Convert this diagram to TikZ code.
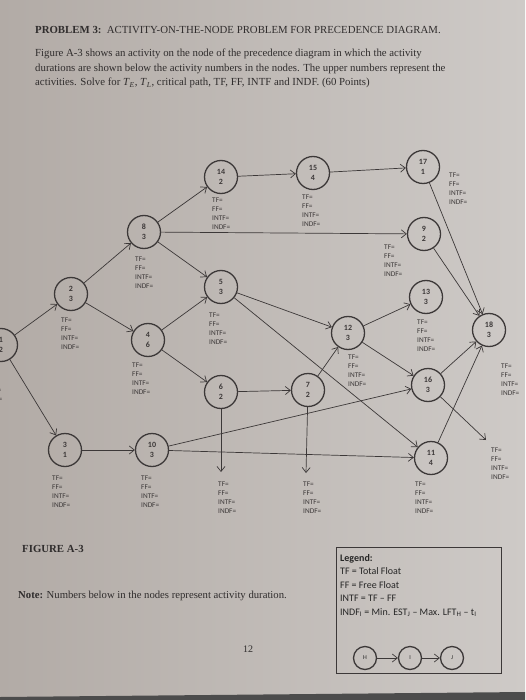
\documentclass[tikz,border=0pt]{standalone}
\usepackage{fontspec}
\setmainfont{Liberation Serif}
\newfontfamily\calib{Carlito}
\usetikzlibrary{arrows.meta}
\definecolor{paper}{RGB}{206,202,199}
\definecolor{paperdark}{RGB}{178,171,166}
\definecolor{ink}{RGB}{60,56,56}
\newcommand{\fltlist}{TF=\\FF=\\INTF=\\INDF=}

\begin{document}
\begin{tikzpicture}[x=1pt,y=-1pt,
  act/.style={draw=ink,circle,line width=1.3pt,minimum size=33pt,inner sep=0pt,align=center,
    text=ink,font=\calib\bfseries\fontsize{8}{10}\selectfont},
  flt/.style={anchor=north west,inner sep=0pt,align=left,text=ink,font=\calib\fontsize{7.3}{9}\selectfont},
  link/.style={draw=ink,line width=0.7pt,-{Straight Barb[length=5pt,width=8pt]}},
  txt/.style={anchor=base west,inner sep=0pt,text=ink!80!black}]
  \shade[left color=paperdark,right color=paper] (0,0) rectangle (525,700);
  \fill[black!70] (0,697) -- (525,692) -- (525,700) -- (0,700) -- cycle;
  \useasboundingbox (0,0) rectangle (525,700);

  \node[txt,font=\fontsize{10.8}{12}\selectfont] (title) at (35,34)
    {\textbf{PROBLEM 3:}\ \ ACTIVITY-ON-THE-NODE PROBLEM FOR PRECEDENCE DIAGRAM.};
  \node[txt,anchor=north west,align=left,font=\fontsize{10.8}{14.5}\selectfont] (intro) at (35,49)
    {Figure A-3 shows an activity on the node of the precedence diagram in which the activity\\
     durations are shown below the activity numbers in the nodes. The upper numbers represent the\\
     activities. Solve for \textit{T}\textsubscript{\textit{E}}, \textit{T}\textsubscript{\textit{L}},
     critical path, TF, FF, INTF and INDF. (60 Points)};

  \node[act] (N-1) at (1,345) {1\\2};
  \node[act] (N-2) at (71,294) {2\\3};
  \node[act] (N-3) at (65,450) {3\\1};
  \node[act] (N-4) at (148,340) {4\\6};
  \node[act] (N-5) at (221,287) {5\\3};
  \node[act] (N-6) at (221,392) {6\\2};
  \node[act] (N-7) at (308,390) {7\\2};
  \node[act] (N-8) at (144,232) {8\\3};
  \node[act] (N-9) at (424,234) {9\\2};
  \node[act] (N-10) at (152,450) {10\\3};
  \node[act] (N-11) at (431,458) {11\\4};
  \node[act] (N-12) at (348,333) {12\\3};
  \node[act] (N-13) at (426,297) {13\\3};
  \node[act] (N-14) at (221,177) {14\\2};
  \node[act] (N-15) at (313,173) {15\\4};
  \node[act] (N-16) at (428,385) {16\\3};
  \node[act] (N-17) at (423,167) {17\\1};
  \node[act] (N-18) at (489,330) {18\\3};
  \coordinate (E-6) at (221,472);
  \coordinate (E-7) at (306,473);
  \coordinate (E-16) at (486,440);

  \node[flt] (F-1) at (-16,370) {\fltlist};
  \node[flt] (F-2) at (61,318) {\fltlist};
  \node[flt] (F-3) at (52,476) {\fltlist};
  \node[flt] (F-4) at (132,363) {\fltlist};
  \node[flt] (F-5) at (209,313) {\fltlist};
  \node[flt] (F-6) at (218,482) {\fltlist};
  \node[flt] (F-7) at (303,482) {\fltlist};
  \node[flt] (F-8) at (135,257) {\fltlist};
  \node[flt] (F-9) at (384,245) {\fltlist};
  \node[flt] (F-10) at (141,476) {\fltlist};
  \node[flt] (F-11) at (415,482) {\fltlist};
  \node[flt] (F-12) at (348,355) {\fltlist};
  \node[flt] (F-13) at (417,320) {\fltlist};
  \node[flt] (F-14) at (212,198) {\fltlist};
  \node[flt] (F-15) at (302,195) {\fltlist};
  \node[flt] (F-16) at (491,448) {\fltlist};
  \node[flt] (F-17) at (449,173) {\fltlist};
  \node[flt] (F-18) at (501,364) {\fltlist};

  \draw[link] (N-1) -- (N-2);
  \draw[link] (N-1) -- (N-3);
  \draw[link] (N-2) -- (N-8);
  \draw[link] (N-2) -- (N-4);
  \draw[link] (N-8) -- (N-14);
  \draw[link] (N-8) -- (N-9);
  \draw[link] (N-8) -- (N-5);
  \draw[link] (N-14) -- (N-15);
  \draw[link] (N-15) -- (N-17);
  \draw[link] (N-17) -- (N-18);
  \draw[link] (N-9) -- (N-18);
  \draw[link] (N-4) -- (N-5);
  \draw[link] (N-4) -- (N-6);
  \draw[link] (N-5) -- (N-12);
  \draw[link] (N-5) -- (N-11);
  \draw[link] (N-6) -- (N-7);
  \draw[link] (N-6) -- (E-6);
  \draw[link] (N-7) -- (N-12);
  \draw[link] (N-7) -- (E-7);
  \draw[link] (N-12) -- (N-13);
  \draw[link] (N-12) -- (N-16);
  \draw[link] (N-3) -- (N-10);
  \draw[link] (N-10) -- (N-16);
  \draw[link] (N-10) -- (N-11);
  \draw[link] (N-16) -- (N-18);
  \draw[link] (N-16) -- (E-16);
  \draw[link] (N-11) -- (N-18);

  \node[txt,font=\bfseries\fontsize{10.8}{12}\selectfont] (fig) at (22,552) {FIGURE A-3};
  \node[txt,font=\fontsize{10.7}{12}\selectfont] (note) at (18,598)
    {\textbf{Note:} Numbers below in the nodes represent activity duration.};
  \node[txt,anchor=base,font=\fontsize{10}{12}\selectfont] (page) at (248,652) {12};

  \draw[ink,line width=0.8pt] (336,547) rectangle (501,673);
  \node[txt,anchor=north west,align=left,text=black!85,font=\calib\fontsize{10}{13.5}\selectfont] (legend) at (340,554)
    {\textbf{Legend:}\\
     TF = Total Float\\
     FF = Free Float\\
     INTF = TF – FF\\
     INDF\textsubscript{I} = Min. EST\textsubscript{J} – Max. LFT\textsubscript{H} – t\textsubscript{I}};
  \node[act,minimum size=23pt,text=black!85,font=\calib\fontsize{6}{7}\selectfont] (H) at (365,658) {H};
  \node[act,minimum size=23pt,text=black!85,font=\calib\fontsize{6}{7}\selectfont] (I) at (410,658) {I};
  \node[act,minimum size=23pt,text=black!85,font=\calib\fontsize{6}{7}\selectfont] (J) at (452,658) {J};
  \draw[link] (H) -- (I);
  \draw[link] (I) -- (J);
\end{tikzpicture}
\end{document}
